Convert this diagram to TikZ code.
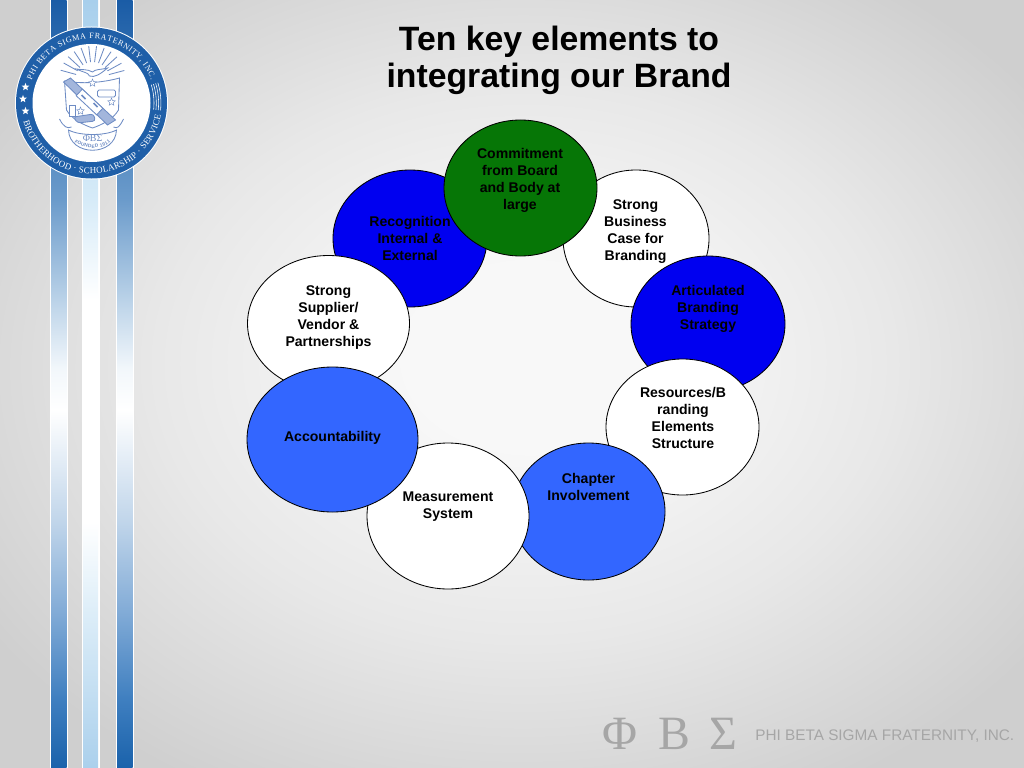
\documentclass[tikz,border=0pt]{standalone}
\usepackage{fontspec}
\setmainfont{Liberation Sans}
\newfontfamily\sealfont{Liberation Serif}
\usetikzlibrary{calc,
shapes.geometric,
decorations.text,
positioning}

\definecolor{backcenter}{HTML}{F8F8F8}
\definecolor{backmid}{HTML}{E8E8E8}
\definecolor{backedge}{HTML}{CFCFCF}
\definecolor{stripeA}{HTML}{1A5CA6}
\definecolor{stripeB}{HTML}{6B9BCB}
\definecolor{stripeC}{HTML}{BAD2E8}
\definecolor{stripeD}{HTML}{F2F7FB}
\definecolor{stripeE}{HTML}{C0D5EA}
\definecolor{stripeF}{HTML}{80AAD6}
\definecolor{stripeG}{HTML}{3F7FC0}
\definecolor{stripeH}{HTML}{1A62AB}
\definecolor{paleA}{HTML}{A8CFEC}
\definecolor{paleB}{HTML}{D6EBF8}
\definecolor{paleC}{HTML}{DCEDF8}
\definecolor{paleD}{HTML}{ABD0EC}
\definecolor{sealblue}{HTML}{1F5FA8}
\definecolor{crestblue}{HTML}{6E8CC4}
\definecolor{crestfill}{HTML}{A3B6DC}
\definecolor{brandgreen}{HTML}{067606}
\definecolor{branddeep}{HTML}{0000F0}
\definecolor{brandsky}{HTML}{3366FF}
\definecolor{footgray}{HTML}{A6A6A6}

\pgfdeclareradialshading{backshade}{\pgfpoint{1bp}{2bp}}{%
  color(0bp)=(backcenter);
  color(6bp)=(backcenter);
  color(18bp)=(backmid);
  color(31bp)=(backedge);
  color(50bp)=(backedge)}
\pgfdeclareverticalshading{stripeshade}{100bp}{%
  color(0bp)=(stripeH);
  color(25bp)=(stripeH);
  color(29.5bp)=(stripeG);
  color(35bp)=(stripeF);
  color(41bp)=(stripeE);
  color(48.3bp)=(white);
  color(51bp)=(stripeD);
  color(55.5bp)=(stripeC);
  color(62bp)=(stripeB);
  color(75bp)=(stripeA);
  color(100bp)=(stripeA)}
\pgfdeclareverticalshading{paleshade}{100bp}{%
  color(0bp)=(paleD);
  color(25bp)=(paleD);
  color(35bp)=(paleC);
  color(41bp)=(white);
  color(55.5bp)=(white);
  color(62bp)=(paleB);
  color(75bp)=(paleA);
  color(100bp)=(paleA)}

\begin{document}
\begin{tikzpicture} [x=0.025cm, y=-0.025cm,
    brand node/.style 2 args={ellipse, draw=black, line width=0.6pt, inner sep=0pt,
        minimum width=#1*0.025cm, minimum height=#2*0.025cm},
    brand text/.style={align=center, inner sep=0pt, text=black,
        font={\fontsize{10}{12.1}\selectfont\bfseries}},
    title text/.style={align=center, inner sep=0pt,
        font={\fontsize{24}{26.3}\selectfont\bfseries}},
    seal star/.style={star, star points=5, star point ratio=2.3, fill=white, inner sep=0pt,
        minimum size=0.2cm},
    crest star/.style={star, star points=5, star point ratio=2.3, draw=crestblue, fill=white,
        line width=0.3pt, inner sep=0pt, minimum size=0.2cm},
    crest line/.style={draw=crestblue, line width=0.6pt},
    greek text/.style={inner sep=0pt, text=footgray,
        font={\sealfont\fontsize{34}{34}\selectfont}}
  ]

  \useasboundingbox (0,0) rectangle (1024,768);
  \shade [shading=backshade] (0,0) rectangle (1024,768);

  \foreach \stripeleft in {50,116} {
    \fill [white] (\stripeleft,0) rectangle ++(17.5,768);
    \shade [shading=stripeshade] (\stripeleft+1,0) rectangle ++(15.5,768);
  }
  \fill [white] (81.5,0) rectangle ++(18,768);
  \shade [shading=paleshade] (83,0) rectangle ++(15,768);

  \begin{scope}[shift={(91.5,103)}, y=0.025cm]
    \fill [white] (0,0) circle (76.5);
    \fill [sealblue] (0,0) circle (75.5);
    \fill [white] (0,0) circle (59);

    \path [postaction={decorate}, decoration={text along path, text align={fit to path},
        text={|\sealfont\fontsize{5.8}{5.8}\selectfont\color{white}|PHI BETA SIGMA FRATERNITY, INC.}}]
      (159:64) arc (159:21:64);
    \path [postaction={decorate}, decoration={text along path, text align={fit to path},
        text={|\sealfont\fontsize{6.4}{6.4}\selectfont\color{white}|BROTHERHOOD · SCHOLARSHIP · SERVICE}}]
      (195:70.5) arc (195:350:70.5);

    \node [seal star] (starA) at (-66,16) {};
    \node [seal star] (starB) at (-68.5,4) {};
    \node [seal star] (starC) at (-66,-8) {};
    \foreach \arcradius in {62.5,64.8,67.1,69.4} {
      \draw [white, line width=0.4pt] (17:\arcradius) arc (17:-6:\arcradius);
    }

    \foreach \rayangle in {15,28.6,...,165} {
      \draw [crest line] ($(1,24)+(\rayangle:17)$) -- ($(1,24)+(\rayangle:33)$);
    }
    \draw [crest line, fill=white] (-15,34) .. controls (-7,30) and (-4,31) .. (-2,27)
      .. controls (3,25) and (9,29) .. (16,35) .. controls (8,33) and (4,34) .. (1,31)
      .. controls (-4,34) and (-9,33) .. (-15,34) -- cycle;

    \draw [crest line, fill=white] (-27,22) .. controls (-10,19) and (10,20) .. (28,25)
      -- (27,-7) .. controls (22,-16) and (10,-22) .. (1,-25)
      .. controls (-8,-22) and (-20,-16) .. (-25,-7) -- cycle;
    \draw [crest line, fill=crestfill] (-28,21) -- (-21,25) -- (24,-17) -- (16,-22) -- cycle;
    \draw [crest line, fill=white, rotate around={-43:(-2,1)}]
      (-16,-3.5) rectangle (12,5.5);
    \draw [draw=crestblue, line width=1.2pt] (-10,8) -- (-6,4) (2,0) -- (6,-4);
    \node [crest star] (starD) at (1,20) {};
    \node [crest star] (starE) at (20,1) {};
    \node [crest star] (starF) at (-11,-8) {};
    \draw [crest line, fill=white, rounded corners=1pt] (6,6) rectangle (24,13);
    \draw [crest line, fill=crestfill, rounded corners=2pt] (-18,-14) -- (2,-11) -- (4,-18) -- (-14,-20) -- cycle;
    \draw [crest line, fill=white] (-22,-13) rectangle (-16,-2);

    \draw [crest line] (-32,-16) .. controls (-28,-24) and (-24,-26) .. (-20,-24)
      (32,-16) .. controls (28,-24) and (26,-26) .. (22,-24);
    \draw [crest line, fill=white] (-23,-27) .. controls (-22,-54) and (24,-54) .. (25,-27)
      .. controls (14,-33) and (-12,-33) .. (-23,-27) -- cycle;
    \node [inner sep=0pt, text=crestblue, font={\sealfont\fontsize{7}{7}\selectfont}]
      (crestgreek) at (1,-35) {ΦΒΣ};
    \path [postaction={decorate}, decoration={text along path, text align={fit to path},
        text={|\fontsize{3.4}{3.4}\selectfont\bfseries\color{crestblue}|FOUNDED 1911}}]
      (-17,-39) .. controls (-8,-47) and (10,-47) .. (19,-39);
  \end{scope}

  \node [title text] (title) at (559,60) {Ten key elements to\\integrating our Brand};

  \node [brand node={154}{137}, fill=branddeep] (recognition) at (410,238.5) {};
  \node [brand node={146}{137}, fill=white] (business) at (636,238.5) {};
  \node [brand node={153}{136}, fill=brandgreen] (commitment) at (520.5,188) {};
  \node [brand node={154}{136}, fill=branddeep] (strategy) at (708,324) {};
  \node [brand node={153}{136}, fill=white] (resources) at (682.5,427) {};
  \node [brand node={153}{137}, fill=brandsky] (chapter) at (588.5,511.5) {};
  \node [brand node={162}{146}, fill=white] (measurement) at (448,516) {};
  \node [brand node={162}{136}, fill=white] (supplier) at (328.5,323.5) {};
  \node [brand node={171}{145}, fill=brandsky] (accountability) at (332.5,439.5) {};

  \node [brand text] (commitmenttext) at (520,180.5) {Commitment\\from Board\\and Body at\\large};
  \node [brand text] (recognitiontext) at (410,238.5) {Recognition\\Internal \&\\External};
  \node [brand text] (businesstext) at (635.5,232) {Strong\\Business\\Case for\\Branding};
  \node [brand text] (strategytext) at (708,309) {Articulated\\Branding\\Strategy};
  \node [brand text] (resourcestext) at (683,418) {Resources/B\\randing\\Elements\\Structure};
  \node [brand text] (chaptertext) at (588.5,486.5) {Chapter\\Involvement};
  \node [brand text] (measurementtext) at (448,506.5) {Measurement\\System};
  \node [brand text] (accountabilitytext) at (332.5,438) {Accountability};
  \node [brand text] (suppliertext) at (328.5,317.5) {Strong\\Supplier/\\Vendor \&\\Partnerships};

  \node [greek text] (phi) at (620,734) {Φ};
  \node [greek text] (beta) at (674,734) {Β};
  \node [greek text] (sigma) at (723,734) {Σ};
  \node [inner sep=0pt, anchor=west, text=footgray,
    font={\fontsize{10.9}{12}\selectfont}
  ] (fraternity) at (755,736) {PHI BETA SIGMA FRATERNITY, INC.};

\end{tikzpicture}
\end{document}
